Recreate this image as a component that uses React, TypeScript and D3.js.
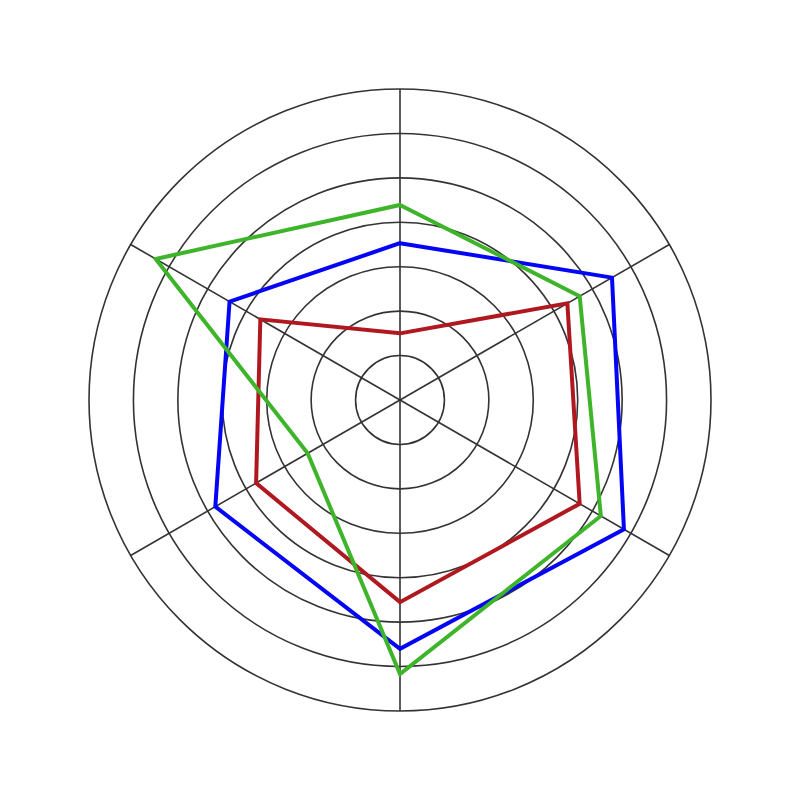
import { useEffect, useRef } from 'react';
import * as d3 from 'd3';

// six spokes, clockwise from the top
const axes = ['A', 'B', 'C', 'D', 'E', 'F'];
const rings = [1, 2, 3, 4, 5, 6, 7];

const redValues = [1.5, 4.35, 4.67, 4.55, 3.74, 3.63];
const blueValues = [3.53, 5.51, 5.82, 5.6, 4.8, 4.43];
const greenValues = [4.39, 4.67, 5.22, 6.17, 2.4, 6.35];

const series = [
  { name: 'red', values: redValues, color: '#b0181f' },
  { name: 'blue', values: blueValues, color: '#0505f5' },
  { name: 'green', values: greenValues, color: '#3db42a' },
];

const RadarChart = ({ width = 800, height = 800 }) => {
  const svgRef = useRef<SVGSVGElement>(null);

  useEffect(() => {
    if (!svgRef.current) return;
    const svg = d3.select(svgRef.current);
    svg.selectAll('*').remove();

    const cx = 400;
    const cy = 400;
    const r = d3.scaleLinear().domain([0, 7]).range([0, 311]);
    const angle = d3.scaleLinear().domain([0, axes.length]).range([0, 2 * Math.PI]);

    const g = svg.append('g').attr('transform', `translate(${cx},${cy})`);

    // rings
    g.selectAll('.ring')
      .data(rings)
      .enter()
      .append('circle')
      .attr('r', d => r(d))
      .attr('fill', 'none')
      .attr('stroke', '#333')
      .attr('stroke-width', 1.6);

    // spokes
    g.selectAll('.spoke')
      .data(axes)
      .enter()
      .append('line')
      .attr('x1', 0)
      .attr('y1', 0)
      .attr('x2', (_, i) => r(7) * Math.sin(angle(i)))
      .attr('y2', (_, i) => -r(7) * Math.cos(angle(i)))
      .attr('stroke', '#333')
      .attr('stroke-width', 1.6);

    const line = d3.lineRadial<number>()
      .angle((_, i) => angle(i))
      .radius(d => r(d))
      .curve(d3.curveLinearClosed);

    g.selectAll('.series')
      .data(series)
      .enter()
      .append('path')
      .attr('d', d => line(d.values))
      .attr('fill', 'none')
      .attr('stroke', d => d.color)
      .attr('stroke-width', 4)
      .attr('stroke-linejoin', 'miter');
  }, [width, height]);

  return <svg ref={svgRef} width={width} height={height} style={{ display: 'block' }} />;
};

export default function App() {
  return (
    <div style={{ margin: -8, background: '#fff', width: 800, height: 800 }}>
      <RadarChart />
    </div>
  );
}
